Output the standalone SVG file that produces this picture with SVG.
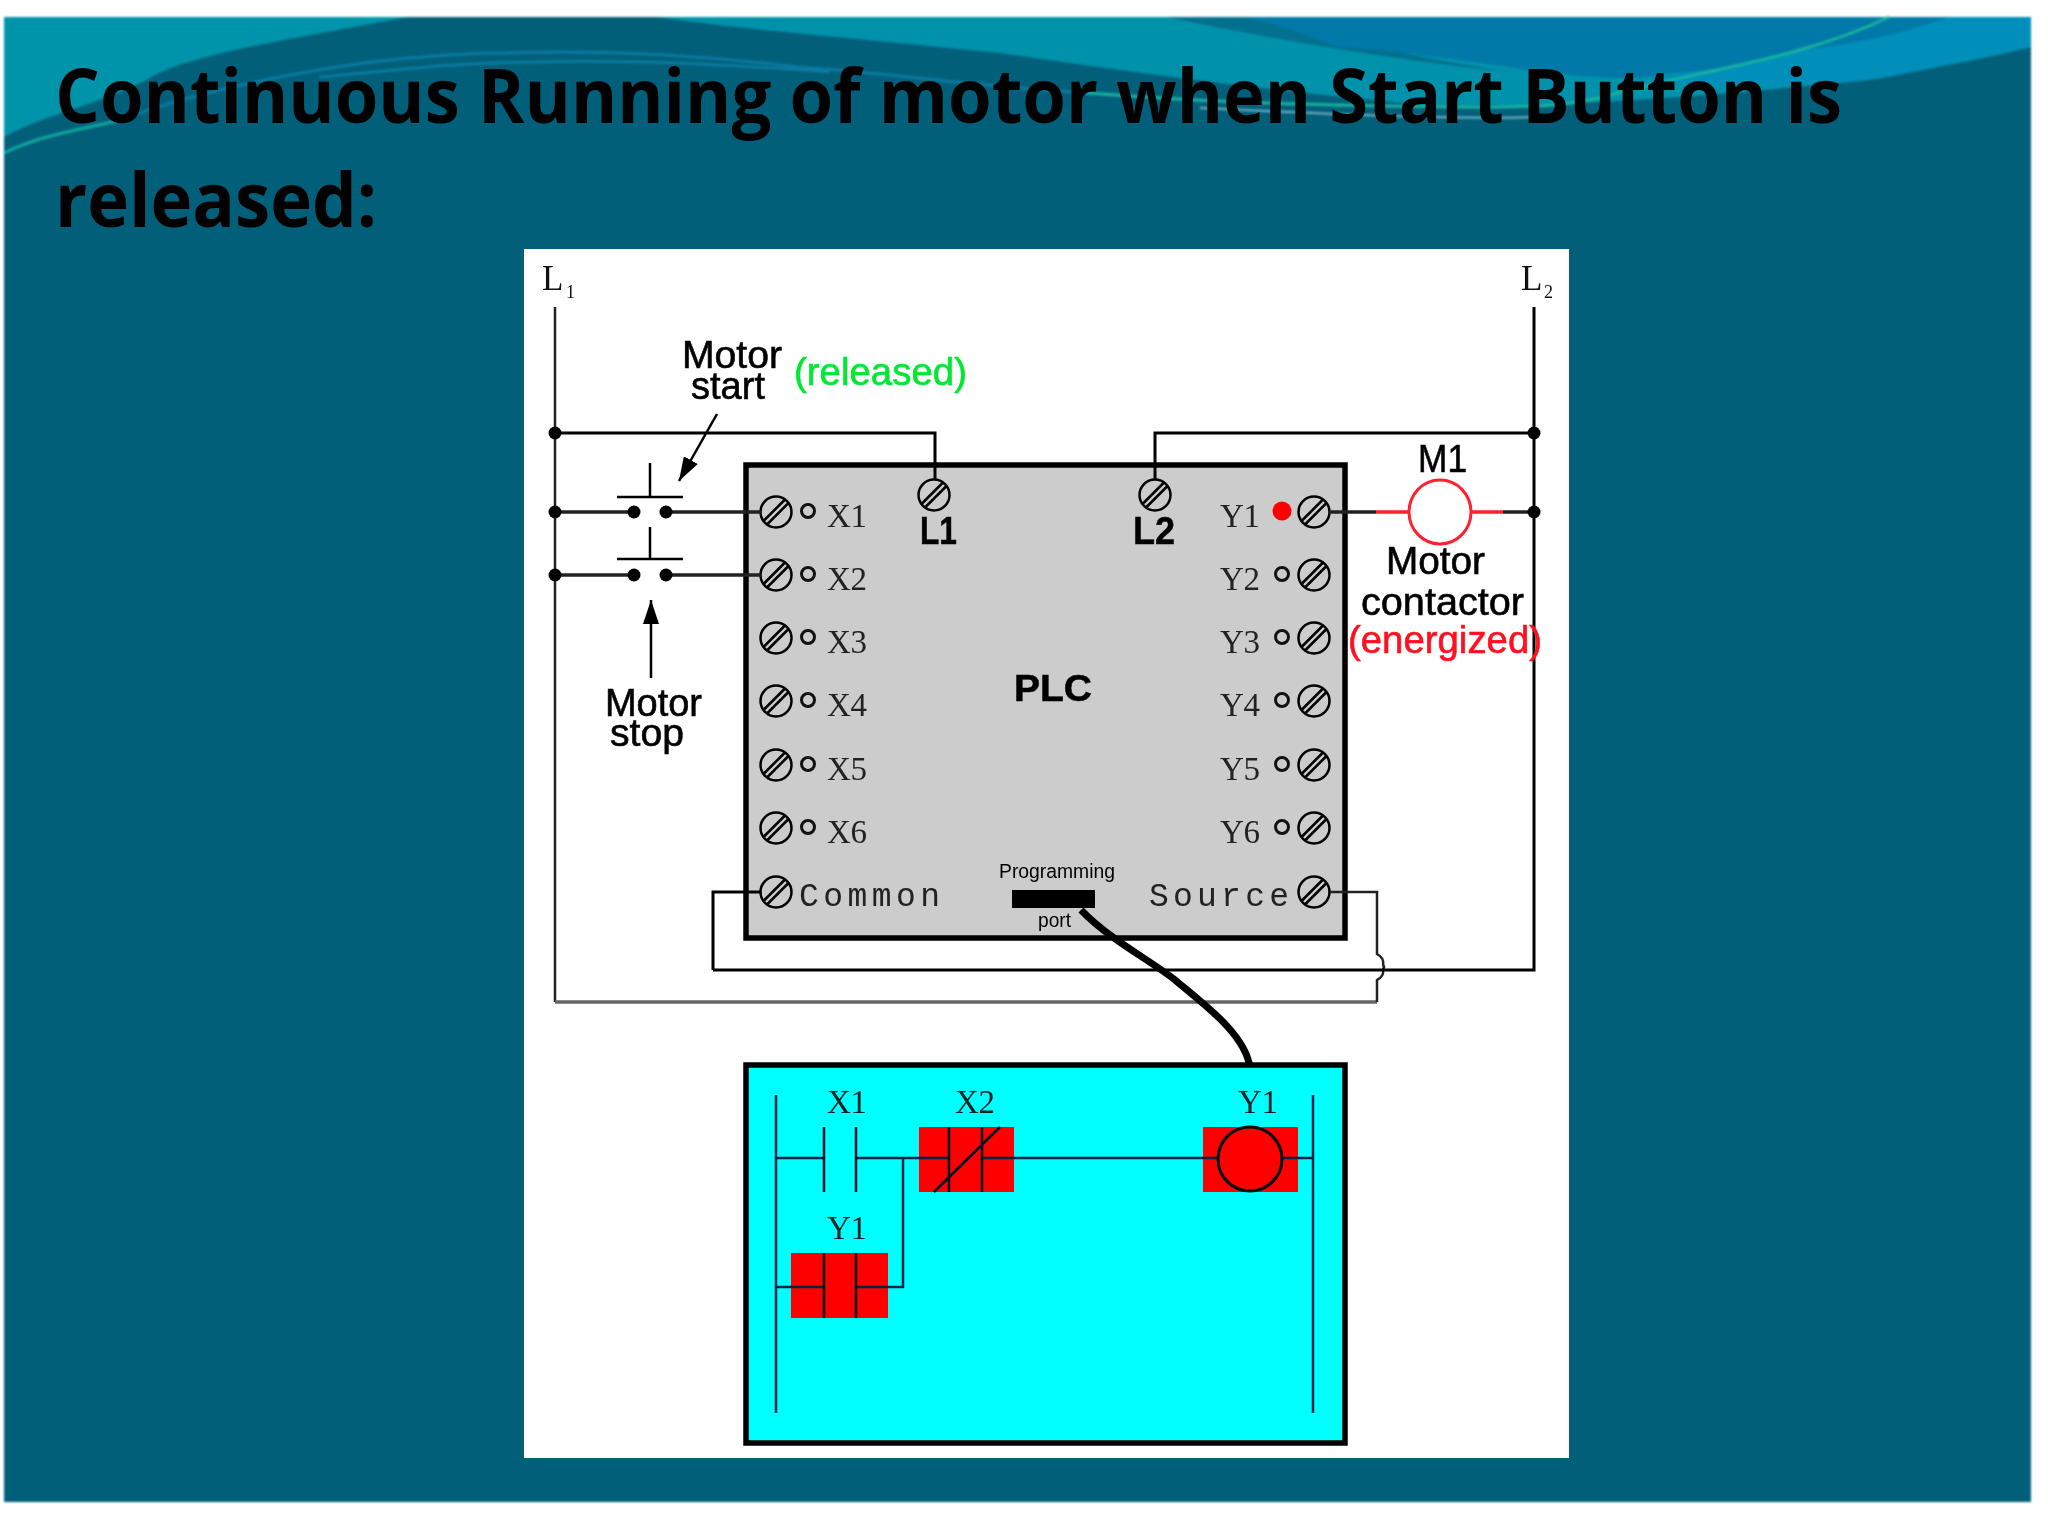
<svg xmlns="http://www.w3.org/2000/svg" width="2048" height="1536" viewBox="0 0 2048 1536">
<defs>
<style>
.sans{font-family:"Liberation Sans",Arial,sans-serif;font-size:38px;fill:#000;stroke:#000;stroke-width:0.6}
.bold{font-family:"Liberation Sans",Arial,sans-serif;font-weight:bold;fill:#000;stroke:#000;stroke-width:0.5}
.mono{font-family:"Liberation Serif","Times New Roman",serif;font-size:33px;fill:#222}
.word{font-family:"Liberation Mono","Courier New",monospace;font-size:33px;fill:#222}
.serif{font-family:"Liberation Serif","Times New Roman",serif;fill:#111}
.title{font-family:"Open Sans","Noto Sans",sans-serif;font-weight:bold;font-size:75px;fill:#000}
.w{fill:none;stroke:#222;stroke-width:2.5}
.k{fill:none;stroke:#000;stroke-width:3}
.l{fill:none;stroke:#024;stroke-width:2.5}
.t{stroke:#000;stroke-width:2.5;fill:none}
.red{fill:#ff0000}
.led{fill:none;stroke:#111;stroke-width:3}
</style>
<filter id="soft" x="-2%" y="-2%" width="104%" height="104%" color-interpolation-filters="sRGB"><feGaussianBlur stdDeviation="0.7"/></filter>
<filter id="softer" x="-2%" y="-10%" width="104%" height="120%" color-interpolation-filters="sRGB"><feGaussianBlur stdDeviation="1.2"/></filter>
<g id="screw">
<circle r="15.5" fill="none" stroke="#000" stroke-width="2.5"/>
<path d="M-12.5 9L9 -12.5M-9 12.5L12.5 -9" stroke="#000" stroke-width="2.5" fill="none"/>
</g>
<marker id="headBig" markerWidth="24" markerHeight="16" refX="24" refY="8" orient="auto" markerUnits="userSpaceOnUse"><path d="M0 0L24 8L0 16z" fill="#000"/></marker>
</defs>

<rect width="2048" height="1536" fill="#ffffff"/>

<g id="slide-background" filter="url(#softer)">
<rect x="4" y="17" width="2027" height="1485" fill="#025f7a"/>
<path d="M4 17H408C300 38 191 53 150 78C100 105 50 112 4 137Z" fill="#0094ab"/>
<path d="M657 17C720 27 870 40 1000 53C1134 73 1267 90 1400 103C1535 112 1735 93 1849 82C1930 70 2000 55 2031 47V17Z" fill="#0092ab"/>
<path d="M1167 17H1247C1300 30 1400 55 1515 73C1400 60 1300 45 1167 17Z" fill="#04708f"/>
<path d="M1247 17H1949C1900 35 1850 45 1802 50C1760 62 1710 72 1668 73C1640 80 1620 78 1600 77C1540 75 1420 50 1334 47C1300 30 1270 25 1247 17Z" fill="#0078a8"/>
<path d="M1949 17H2031V47C1960 60 1900 78 1849 82C1780 85 1700 90 1650 78C1700 72 1760 62 1802 50C1850 45 1900 35 1949 17Z" fill="#008fbb"/>
<path d="M4 153C40 135 80 130 120 120" fill="none" stroke="#10a8a0" stroke-width="3"/>
<path d="M120 120C200 90 360 53 510 53C600 50 700 55 797 67C880 72 960 85 1087 93" fill="none" stroke="#0a7aa0" stroke-width="3"/>
<path d="M319 77C400 70 460 62 536 62C600 60 700 62 829 72" fill="none" stroke="#0a7fa5" stroke-width="2.5"/>
<path d="M1087 93C1180 100 1267 105 1468 107C1540 108 1580 104 1610 95C1700 70 1800 60 1889 17" fill="none" stroke="#18b4a0" stroke-width="3"/>
<path d="M1200 108C1300 112 1430 120 1535 117" fill="none" stroke="#6fb4c0" stroke-width="2"/>
</g>

<g id="title" filter="url(#soft)">
<text class="title" x="55" y="123" textLength="1787" lengthAdjust="spacingAndGlyphs">Continuous Running of motor when Start Button is</text>
<text class="title" x="55" y="227" textLength="322" lengthAdjust="spacingAndGlyphs">released:</text>
</g>

<g id="diagram" filter="url(#soft)">
<rect id="panel" x="524" y="249" width="1045" height="1209" fill="#ffffff"/>

<g id="plc">
<rect x="746" y="465" width="599" height="473" fill="#cccccc" stroke="#000" stroke-width="5.5"/>
<text class="bold" x="1014" y="701" font-size="36" textLength="78" lengthAdjust="spacingAndGlyphs">PLC</text>
<text class="bold" x="920" y="544" font-size="38" textLength="37" lengthAdjust="spacingAndGlyphs">L1</text>
<text class="bold" x="1133" y="544" font-size="38" textLength="42" lengthAdjust="spacingAndGlyphs">L2</text>
<use href="#screw" x="934" y="495"/>
<use href="#screw" x="1155" y="495"/>
<g id="plc-inputs">
<use href="#screw" x="776" y="512"/><circle class="led" cx="808" cy="511" r="6.5"/><text class="mono" x="827" y="527" textLength="40">X1</text>
<use href="#screw" x="776" y="575"/><circle class="led" cx="808" cy="574" r="6.5"/><text class="mono" x="827" y="590" textLength="40">X2</text>
<use href="#screw" x="776" y="638"/><circle class="led" cx="808" cy="637" r="6.5"/><text class="mono" x="827" y="653" textLength="40">X3</text>
<use href="#screw" x="776" y="701"/><circle class="led" cx="808" cy="700" r="6.5"/><text class="mono" x="827" y="716" textLength="40">X4</text>
<use href="#screw" x="776" y="765"/><circle class="led" cx="808" cy="764" r="6.5"/><text class="mono" x="827" y="780" textLength="40">X5</text>
<use href="#screw" x="776" y="828"/><circle class="led" cx="808" cy="827" r="6.5"/><text class="mono" x="827" y="843" textLength="40">X6</text>
<use href="#screw" x="776" y="892"/><text class="word" x="799" y="906" textLength="141">Common</text>
</g>
<g id="plc-outputs">
<use href="#screw" x="1314" y="512"/><circle class="red" cx="1282" cy="511" r="9.5"/><text class="mono" x="1220" y="527" textLength="40">Y1</text>
<use href="#screw" x="1314" y="575"/><circle class="led" cx="1282" cy="574" r="6.5"/><text class="mono" x="1220" y="590" textLength="40">Y2</text>
<use href="#screw" x="1314" y="638"/><circle class="led" cx="1282" cy="637" r="6.5"/><text class="mono" x="1220" y="653" textLength="40">Y3</text>
<use href="#screw" x="1314" y="701"/><circle class="led" cx="1282" cy="700" r="6.5"/><text class="mono" x="1220" y="716" textLength="40">Y4</text>
<use href="#screw" x="1314" y="765"/><circle class="led" cx="1282" cy="764" r="6.5"/><text class="mono" x="1220" y="780" textLength="40">Y5</text>
<use href="#screw" x="1314" y="828"/><circle class="led" cx="1282" cy="827" r="6.5"/><text class="mono" x="1220" y="843" textLength="40">Y6</text>
<use href="#screw" x="1314" y="892"/><text class="word" x="1149" y="906" textLength="140">Source</text>
</g>
<g id="programming-port">
<rect x="1012" y="890" width="83" height="18" fill="#000"/>
<text class="sans" x="999" y="878" style="font-size:20px;stroke-width:0" textLength="116" lengthAdjust="spacingAndGlyphs">Programming</text>
<text class="sans" x="1038" y="927" style="font-size:20px;stroke-width:0" textLength="33" lengthAdjust="spacingAndGlyphs">port</text>
</g>
</g>

<g id="connectors">
<path class="w" d="M555 307V1002"/>
<path fill="none" stroke="#666" stroke-width="3.5" d="M555 1002H1377"/>
<path class="w" d="M1377 1002V980C1388 974 1380 968 1385 967C1380 966 1388 960 1377 954V892H1330"/>
<path class="k" d="M713 970H1534V307"/>
<path class="k" d="M761 892H713V970"/>
<path class="k" d="M555 433H935V480"/>
<path class="k" d="M1534 433H1155V480"/>
<path class="w" style="stroke-width:3.5" d="M555 512H634M666 512H761"/>
<path class="w" style="stroke-width:3.5" d="M555 575H634M666 575H761"/>
<path class="w" style="stroke-width:3.5" d="M1329 512H1376M1503 512H1534"/>
<path fill="none" stroke="#ff2030" stroke-width="3.5" d="M1376 512H1408M1471 512H1503"/>
<path id="programming-cable" fill="none" stroke="#000" stroke-width="7" d="M1081 910C1110 940 1150 960 1175 980C1205 1005 1246 1035 1250 1068"/>
<circle cx="555" cy="433" r="6.5" fill="#000"/><circle cx="555" cy="512" r="6.5" fill="#000"/><circle cx="555" cy="575" r="6.5" fill="#000"/>
<circle cx="1534" cy="433" r="6.5" fill="#000"/><circle cx="1534" cy="512" r="6.5" fill="#000"/>
<path class="t" marker-end="url(#headBig)" d="M717 414L679 481"/>
<path class="t" marker-end="url(#headBig)" d="M651 678V600"/>
</g>

<g id="line-labels">
<text class="serif" x="542" y="290" font-size="35">L</text><text class="serif" x="566" y="298" font-size="18">1</text>
<text class="serif" x="1521" y="290" font-size="35">L</text><text class="serif" x="1544" y="298" font-size="18">2</text>
</g>

<g id="motor-start">
<path class="t" d="M650 463V497M617 497H683"/>
<circle cx="634" cy="512" r="6.5" fill="#000"/><circle cx="666" cy="512" r="6.5" fill="#000"/>
<text class="sans" x="682" y="368" textLength="100" lengthAdjust="spacingAndGlyphs">Motor</text>
<text class="sans" x="691" y="399" textLength="74" lengthAdjust="spacingAndGlyphs">start</text>
<text class="sans" x="794" y="385" style="fill:#00e832;stroke:#00e832" textLength="173" lengthAdjust="spacingAndGlyphs">(released)</text>
</g>

<g id="motor-stop">
<path class="t" d="M650 527V559M617 559H683"/>
<circle cx="634" cy="575" r="6.5" fill="#000"/><circle cx="666" cy="575" r="6.5" fill="#000"/>
<text class="sans" x="605" y="716" textLength="97" lengthAdjust="spacingAndGlyphs">Motor</text>
<text class="sans" x="610" y="746" textLength="74" lengthAdjust="spacingAndGlyphs">stop</text>
</g>

<g id="motor-contactor">
<ellipse cx="1440" cy="512" rx="31" ry="32" fill="none" stroke="#ff2030" stroke-width="3"/>
<text class="sans" x="1418" y="472" textLength="49" lengthAdjust="spacingAndGlyphs">M1</text>
<text class="sans" x="1386" y="574" textLength="99" lengthAdjust="spacingAndGlyphs">Motor</text>
<text class="sans" x="1361" y="615" textLength="163" lengthAdjust="spacingAndGlyphs">contactor</text>
<text class="sans" x="1348" y="653" style="fill:#ff1020;stroke:#ff1020" textLength="194" lengthAdjust="spacingAndGlyphs">(energized)</text>
</g>

<g id="ladder">
<rect x="746" y="1065" width="599" height="378" fill="#00ffff" stroke="#000" stroke-width="5.5"/>
<rect class="red" x="919" y="1127" width="95" height="65"/>
<rect class="red" x="1203" y="1127" width="95" height="65"/>
<rect class="red" x="791" y="1253" width="97" height="65"/>
<path class="l" d="M776 1095V1413M1313 1095V1413"/>
<path class="l" d="M776 1158H824M856 1158H949M982 1158H1218M1282 1158H1313M903 1158V1287H856M776 1287H824"/>
<path class="l" style="stroke:#012" d="M824 1127V1192M856 1127V1192M824 1253V1318M856 1253V1318M949 1127V1192M982 1127V1192M934 1192L1000 1127"/>
<ellipse cx="1250" cy="1159" rx="32" ry="32" fill="none" stroke="#011" stroke-width="3"/>
<text class="mono" x="827" y="1113" style="fill:#022" textLength="40">X1</text>
<text class="mono" x="955" y="1113" style="fill:#022" textLength="40">X2</text>
<text class="mono" x="1238" y="1113" style="fill:#022" textLength="40">Y1</text>
<text class="mono" x="827" y="1239" style="fill:#022" textLength="40">Y1</text>
</g>
</g>
</svg>
